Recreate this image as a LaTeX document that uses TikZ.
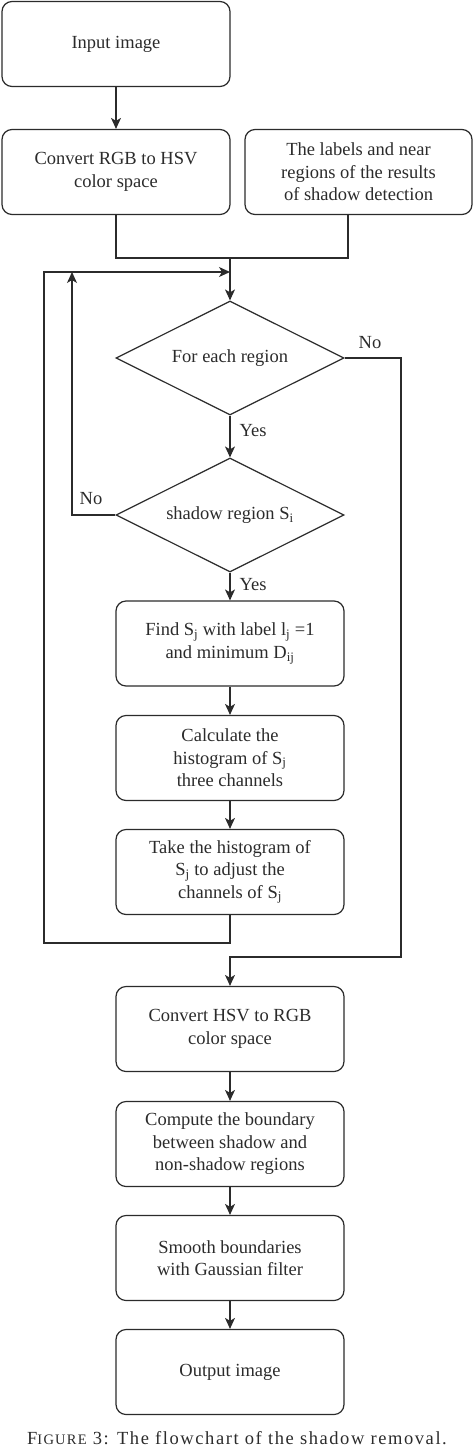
\documentclass[tikz,border=0pt]{standalone}
\usepackage{fontspec}
\setmainfont{Liberation Serif}
\newfontfamily\capfont[LetterSpace=8.5]{Liberation Serif}
\usetikzlibrary{shapes.geometric,arrows.meta}
\definecolor{ink}{HTML}{2B2B2B}
\begin{document}
\begin{tikzpicture}[x=1pt,y=-1pt,
  box/.style={draw=ink,line width=1.2pt,rounded corners=10pt,minimum width=228pt,minimum height=85pt,inner sep=2pt,align=center,text=ink,font=\fontsize{18.5}{22.5}\selectfont},
  dec/.style={draw=ink,line width=1.2pt,diamond,aspect=2,minimum width=228pt,minimum height=114pt,inner sep=0pt,align=center,text=ink,font=\fontsize{18.5}{22.5}\selectfont},
  conn/.style={draw=ink,line width=1.2pt},
  arr/.style={conn,-{Stealth[length=11pt,width=10pt,inset=3pt]}},
  lbl/.style={text=ink,font=\fontsize{18.5}{20}\selectfont,inner sep=0pt}]
\useasboundingbox (0,0) rectangle (474,1449);
\node[box] (in) at (116,44) {Input image};
\node[box] (conv) at (116,172) {Convert RGB to HSV\\color space};
\node[box,minimum width=227pt] (lab) at (358.5,172) {The labels and near\\regions of the results\\of shadow detection};
\node[dec] (d1) at (230,358) {For each region};
\node[dec] (d2) at (230,515) {shadow region S\textsubscript{i}};
\node[box] (find) at (230,643.5) {Find S\textsubscript{j} with label l\textsubscript{j} =1\\and minimum D\textsubscript{ij}};
\node[box] (calc) at (230,758) {Calculate the\\histogram of S\textsubscript{j}\\three channels};
\node[box] (take) at (230,872) {Take the histogram of\\S\textsubscript{j} to adjust the\\channels of S\textsubscript{j}};
\node[box] (hsv) at (230,1029) {Convert HSV to RGB\\color space};
\node[box] (comp) at (230,1144) {Compute the boundary\\between shadow and\\non-shadow regions};
\node[box] (smooth) at (230,1258) {Smooth boundaries\\with Gaussian filter};
\node[box] (out) at (230,1372) {Output image};
\node[text=ink,font=\capfont\fontsize{18.5}{20}\selectfont,inner sep=0pt] (cap) at (237,1438) {F{\fontsize{14.5}{16}\selectfont IGURE} 3: The flowchart of the shadow removal.};
\coordinate (m) at (230,258);
\coordinate (labout) at (348,214);
\coordinate (j) at (230,272);
\coordinate (lb) at (44,943);
\coordinate (lt) at (44,272);
\coordinate (n2) at (72,272);
\coordinate (r) at (401,957);
\draw[arr] (in) -- (conv);
\draw[conn] (conv.south) |- (m);
\draw[conn] (labout) |- (m);
\draw[arr] (m) -- (d1.north);
\draw[arr] (take.south) |- (lb) -- (lt) -- (j);
\draw[arr] (d2.west) -| (n2);
\draw[arr] (d1.east) -| (r) -| (hsv.north);
\draw[arr] (d1.south) -- (d2.north);
\draw[arr] (d2.south) -- (find.north);
\draw[arr] (find) -- (calc);
\draw[arr] (calc) -- (take);
\draw[arr] (hsv) -- (comp);
\draw[arr] (comp) -- (smooth);
\draw[arr] (smooth) -- (out);
\node[lbl] (no1) at (370,343) {No};
\node[lbl] (yes1) at (253,431) {Yes};
\node[lbl] (no2) at (91,499) {No};
\node[lbl] (yes2) at (253,585) {Yes};
\end{tikzpicture}
\end{document}
